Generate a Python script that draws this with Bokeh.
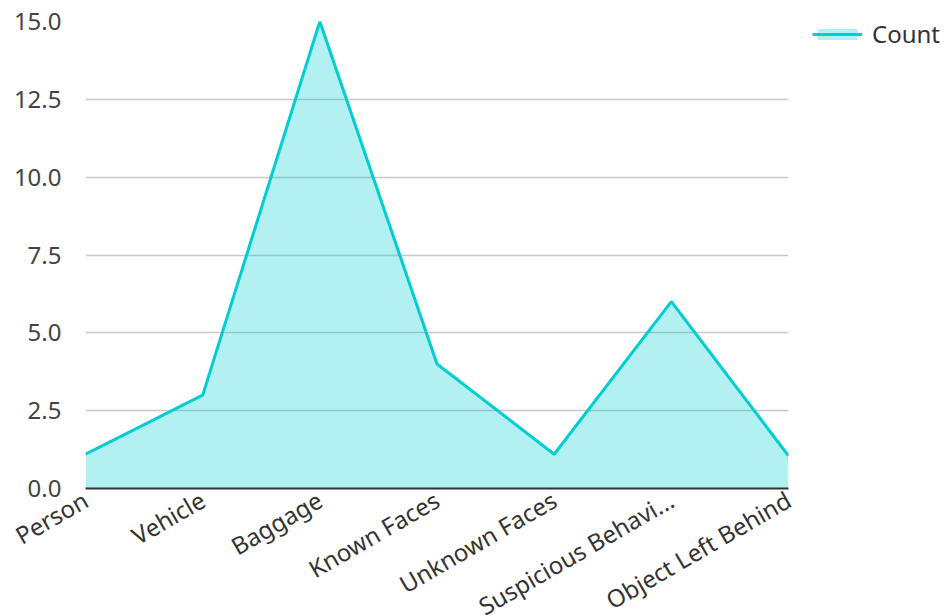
import math
from bokeh.plotting import figure
from bokeh.models import ColumnDataSource, FixedTicker, Legend, LegendItem, Range1d, NumeralTickFormatter
from bokeh.embed import file_html
from bokeh.resources import INLINE

categories = ["Person", "Vehicle", "Baggage", "Known Faces", "Unknown Faces",
              "Suspicious Behavi...", "Object Left Behind"]
counts = [1.1, 3, 15, 4, 1.1, 6, 1.05]
y_ticks = [0, 2.5, 5, 7.5, 10, 12.5, 15]

xs = list(range(len(categories)))
src = ColumnDataSource(dict(x=xs, y=counts, base=[0] * len(xs)))

FW, FH = 703, 467
p = figure(output_backend="svg", toolbar_location=None,
           frame_width=FW, frame_height=FH,
           x_range=Range1d(0, len(categories) - 1), y_range=Range1d(0, 15))
p.min_border_left = 85
p.min_border_top = 21
p.min_border_bottom = 110
p.min_border_right = 0
p.outline_line_color = None
p.background_fill_color = "white"

FONT = "Noto Sans"
area = p.varea(x="x", y1="base", y2="y", source=src, fill_color="#00CED1", fill_alpha=0.3)
line = p.line(x="x", y="y", source=src, line_color="#00CED1", line_width=3)

p.xgrid.visible = False
p.ygrid.grid_line_color = "#c8c8c8"
p.ygrid.grid_line_width = 1.5
p.ygrid.ticker = FixedTicker(ticks=y_ticks)

ya = p.yaxis[0]
ya.ticker = FixedTicker(ticks=y_ticks)
ya.formatter = NumeralTickFormatter(format="0.0")
ya.axis_line_color = None
ya.major_tick_line_color = None
ya.minor_tick_line_color = None
ya.major_tick_out = 0
ya.major_label_standoff = 24
ya.major_label_text_font = FONT
ya.major_label_text_font_size = "24px"
ya.major_label_text_color = "#444444"

xa = p.xaxis[0]
xa.ticker = FixedTicker(ticks=xs)
xa.major_label_overrides = {i: c for i, c in zip(xs, categories)}
xa.axis_line_color = "#333333"
xa.axis_line_width = 2
xa.major_tick_line_color = None
xa.minor_tick_line_color = None
xa.major_tick_out = 0
xa.major_label_standoff = 9
xa.major_label_orientation = math.pi / 6
xa.major_label_text_font = FONT
xa.major_label_text_font_size = "24px"
xa.major_label_text_color = "#333333"

legend = Legend(items=[LegendItem(label="Count", renderers=[area, line])],
                location=(24, FH - 3 - 30 + 4), border_line_color=None,
                background_fill_alpha=0, glyph_width=50, glyph_height=14,
                label_text_font=FONT, label_text_font_size="24px",
                label_text_color="#333333", margin=0, padding=0,
                label_standoff=10)
p.add_layout(legend, "right")
p.min_border_right = 157

open("out.html", "w").write(file_html(p, INLINE))
